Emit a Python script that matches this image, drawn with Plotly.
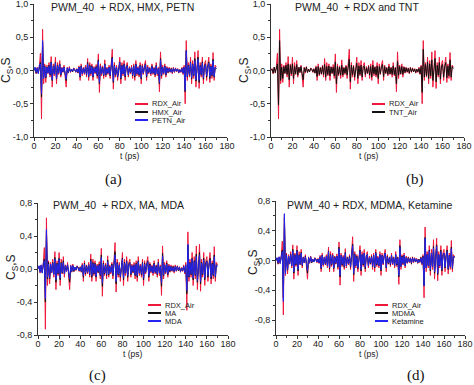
import plotly.graph_objects as go

W, H = 474, 385

t = list(range(0, 171))

rdx_air = [
    0.0, 0.03, -0.05, 0.05, -0.04, 0.06, 0.26, -0.73, 0.62, -0.2,
    0.1, -0.18, 0.08, -0.05, 0.12, -0.1, 0.21, -0.25, 0.1, -0.08,
    0.2, -0.2, 0.12, -0.06, 0.15, -0.1, 0.05, -0.03, 0.08, -0.05,
    -0.25, 0.05, -0.04, 0.06, -0.03, 0.02, -0.02, 0.04, 0.02, -0.03,
    0.03, -0.04, 0.07, -0.15, 0.1, -0.08, 0.05, -0.06, 0.08, -0.1,
    0.18, -0.15, 0.12, -0.08, 0.1, -0.15, 0.06, -0.05, 0.09, -0.12,
    0.25, -0.33, 0.1, -0.08, 0.07, -0.12, 0.16, -0.1, 0.05, -0.06,
    0.08, -0.12, 0.1, 0.32, -0.28, 0.12, -0.1, 0.08, -0.15, 0.1,
    0.2, -0.2, 0.12, -0.08, 0.15, -0.15, 0.08, 0.12, -0.1, 0.06,
    -0.05, 0.08, -0.12, 0.1, -0.15, 0.15, -0.08, 0.06, -0.1, 0.12,
    -0.2, 0.1, -0.06, 0.08, 0.15, -0.15, 0.08, -0.05, 0.05, -0.08,
    0.1, -0.06, 0.05, -0.1, 0.12, -0.08, 0.05, -0.32, 0.28, -0.12,
    0.08, -0.06, 0.1, -0.1, 0.06, -0.04, 0.05, -0.03, 0.04, -0.05,
    0.05, -0.03, 0.04, -0.02, 0.03, -0.04, 0.02, -0.03, 0.05, -0.06,
    0.08, -0.5, 0.45, -0.15, 0.12, -0.1, 0.2, -0.2, 0.15, -0.12,
    0.28, -0.25, 0.1, 0.3, -0.27, 0.12, -0.1, 0.2, -0.2, 0.1,
    0.15, -0.15, 0.08, 0.2, -0.18, 0.1, -0.12, 0.27, -0.15, 0.08,
    0.05,
]

hmx_air = [
    0.0, 0.04, -0.04, 0.03, -0.04, 0.07, 0.12, -0.4, 0.42, -0.1,
    0.07, -0.11, 0.05, -0.03, 0.08, -0.07, 0.13, -0.15, 0.07, -0.05,
    0.12, -0.13, 0.08, -0.04, 0.1, -0.07, 0.03, -0.02, 0.05, -0.04,
    -0.15, 0.03, -0.03, 0.04, -0.02, 0.01, -0.02, 0.03, 0.01, -0.02,
    0.02, -0.03, 0.05, -0.1, 0.07, -0.05, 0.03, -0.04, 0.05, -0.07,
    0.12, -0.1, 0.08, -0.05, 0.07, -0.1, 0.04, -0.03, 0.06, -0.08,
    0.16, -0.2, 0.07, -0.05, 0.05, -0.08, 0.1, -0.07, 0.03, -0.04,
    0.05, -0.08, 0.07, 0.2, -0.18, 0.08, -0.07, 0.05, -0.1, 0.07,
    0.13, -0.13, 0.08, -0.05, 0.1, -0.1, 0.05, 0.08, -0.07, 0.04,
    -0.03, 0.05, -0.08, 0.07, -0.1, 0.1, -0.05, 0.04, -0.07, 0.08,
    -0.13, 0.07, -0.04, 0.05, 0.1, -0.1, 0.05, -0.03, 0.03, -0.05,
    0.07, -0.04, 0.03, -0.07, 0.08, -0.05, 0.03, -0.2, 0.18, -0.08,
    0.05, -0.04, 0.07, -0.07, 0.04, -0.03, 0.03, -0.02, 0.03, -0.03,
    0.03, -0.02, 0.03, -0.01, 0.02, -0.03, 0.01, -0.02, 0.03, -0.04,
    0.05, -0.32, 0.3, -0.1, 0.08, -0.07, 0.13, -0.13, 0.1, -0.08,
    0.18, -0.16, 0.07, 0.2, -0.18, 0.08, -0.07, 0.13, -0.13, 0.07,
    0.1, -0.1, 0.05, 0.13, -0.12, 0.07, -0.08, 0.17, -0.1, 0.05,
    0.03,
]

petn_air = [
    0.0, 0.05, -0.03, 0.04, -0.05, 0.08, 0.1, -0.35, 0.45, -0.12,
    0.06, -0.1, 0.05, -0.04, 0.07, -0.06, 0.12, -0.14, 0.06, -0.05,
    0.11, -0.12, 0.07, -0.04, 0.09, -0.06, 0.04, -0.02, 0.05, -0.03,
    -0.13, 0.04, -0.03, 0.04, -0.02, 0.02, -0.01, 0.03, 0.01, -0.02,
    0.02, -0.03, 0.05, -0.09, 0.06, -0.05, 0.03, -0.04, 0.05, -0.06,
    0.1, -0.09, 0.07, -0.05, 0.06, -0.09, 0.04, -0.03, 0.05, -0.07,
    0.14, -0.18, 0.06, -0.05, 0.04, -0.07, 0.09, -0.06, 0.03, -0.04,
    0.05, -0.07, 0.06, 0.18, -0.16, 0.07, -0.06, 0.05, -0.09, 0.06,
    0.12, -0.11, 0.07, -0.05, 0.09, -0.08, 0.05, 0.07, -0.06, 0.04,
    -0.03, 0.05, -0.07, 0.06, -0.08, 0.09, -0.05, 0.04, -0.06, 0.07,
    -0.11, 0.06, -0.04, 0.05, 0.09, -0.08, 0.05, -0.03, 0.03, -0.05,
    0.06, -0.04, 0.03, -0.06, 0.07, -0.05, 0.03, -0.18, 0.16, -0.07,
    0.05, -0.04, 0.06, -0.06, 0.04, -0.02, 0.03, -0.02, 0.02, -0.03,
    0.03, -0.02, 0.03, -0.01, 0.02, -0.03, 0.01, -0.02, 0.03, -0.04,
    0.05, -0.3, 0.3, -0.09, 0.07, -0.06, 0.12, -0.11, 0.09, -0.07,
    0.15, -0.14, 0.06, 0.17, -0.15, 0.07, -0.06, 0.11, -0.11, 0.06,
    0.09, -0.08, 0.05, 0.11, -0.1, 0.06, -0.07, 0.15, -0.09, 0.05,
    0.03,
]

tnt_air = [
    0.0, 0.02, -0.04, 0.05, -0.03, 0.05, 0.1, -0.52, 0.45, -0.15,
    0.05, -0.12, 0.06, -0.04, 0.08, -0.06, 0.1, -0.14, 0.08, -0.05,
    0.1, -0.12, 0.06, -0.05, 0.09, -0.07, 0.05, -0.03, 0.06, -0.04,
    -0.14, 0.04, -0.02, 0.05, -0.03, 0.02, -0.02, 0.03, 0.02, -0.02,
    0.02, -0.04, 0.05, -0.09, 0.06, -0.06, 0.04, -0.05, 0.06, -0.06,
    0.09, -0.1, 0.06, -0.06, 0.07, -0.08, 0.05, -0.04, 0.05, -0.08,
    0.13, -0.2, 0.06, -0.06, 0.05, -0.07, 0.08, -0.07, 0.04, -0.04,
    0.06, -0.07, 0.05, 0.17, -0.17, 0.08, -0.06, 0.06, -0.1, 0.06,
    0.11, -0.12, 0.07, -0.06, 0.08, -0.1, 0.05, 0.07, -0.06, 0.04,
    -0.04, 0.06, -0.07, 0.06, -0.1, 0.08, -0.05, 0.05, -0.07, 0.07,
    -0.12, 0.06, -0.05, 0.06, 0.09, -0.09, 0.06, -0.04, 0.04, -0.06,
    0.06, -0.05, 0.04, -0.06, 0.07, -0.06, 0.04, -0.2, 0.14, -0.07,
    0.06, -0.05, 0.06, -0.06, 0.05, -0.03, 0.04, -0.02, 0.03, -0.04,
    0.04, -0.02, 0.03, -0.02, 0.02, -0.03, 0.02, -0.02, 0.03, -0.05,
    0.06, -0.33, 0.32, -0.1, 0.09, -0.08, 0.13, -0.12, 0.1, -0.08,
    0.16, -0.15, 0.07, 0.18, -0.17, 0.08, -0.07, 0.12, -0.13, 0.07,
    0.09, -0.1, 0.06, 0.12, -0.11, 0.07, -0.08, 0.16, -0.1, 0.06,
    0.03,
]

ma = [
    0.01, 0.03, -0.03, 0.04, -0.04, 0.06, 0.12, -0.4, 0.46, -0.12,
    0.08, -0.12, 0.05, -0.04, 0.08, -0.06, 0.14, -0.16, 0.07, -0.06,
    0.13, -0.13, 0.08, -0.05, 0.1, -0.06, 0.04, -0.02, 0.05, -0.04,
    -0.16, 0.03, -0.03, 0.04, -0.03, 0.02, -0.01, 0.03, 0.02, -0.02,
    0.02, -0.03, 0.05, -0.1, 0.07, -0.06, 0.04, -0.04, 0.05, -0.07,
    0.12, -0.1, 0.08, -0.06, 0.07, -0.1, 0.04, -0.04, 0.06, -0.08,
    0.17, -0.21, 0.07, -0.06, 0.05, -0.08, 0.11, -0.07, 0.03, -0.04,
    0.06, -0.08, 0.07, 0.21, -0.18, 0.08, -0.07, 0.05, -0.1, 0.07,
    0.13, -0.13, 0.08, -0.05, 0.1, -0.1, 0.06, 0.08, -0.07, 0.04,
    -0.04, 0.05, -0.08, 0.07, -0.1, 0.1, -0.05, 0.04, -0.07, 0.08,
    -0.13, 0.07, -0.04, 0.05, 0.1, -0.1, 0.06, -0.03, 0.03, -0.05,
    0.07, -0.04, 0.04, -0.07, 0.08, -0.05, 0.03, -0.21, 0.19, -0.08,
    0.05, -0.04, 0.07, -0.07, 0.04, -0.03, 0.03, -0.02, 0.03, -0.03,
    0.03, -0.02, 0.03, -0.02, 0.02, -0.03, 0.01, -0.02, 0.03, -0.04,
    0.05, -0.3, 0.29, -0.1, 0.08, -0.07, 0.13, -0.13, 0.1, -0.08,
    0.18, -0.16, 0.07, 0.2, -0.18, 0.08, -0.07, 0.13, -0.13, 0.07,
    0.1, -0.1, 0.05, 0.13, -0.12, 0.07, -0.08, 0.17, -0.1, 0.05,
    0.04,
]

mda = [
    0.0, 0.04, -0.04, 0.05, -0.05, 0.07, 0.1, -0.36, 0.48, -0.1,
    0.06, -0.11, 0.06, -0.04, 0.07, -0.07, 0.12, -0.13, 0.06, -0.05,
    0.12, -0.11, 0.07, -0.04, 0.08, -0.06, 0.04, -0.03, 0.05, -0.03,
    -0.12, 0.04, -0.03, 0.04, -0.02, 0.02, -0.01, 0.03, 0.01, -0.02,
    0.02, -0.03, 0.05, -0.08, 0.06, -0.05, 0.03, -0.04, 0.05, -0.06,
    0.1, -0.08, 0.07, -0.05, 0.06, -0.09, 0.04, -0.03, 0.05, -0.07,
    0.14, -0.17, 0.06, -0.05, 0.04, -0.07, 0.09, -0.06, 0.03, -0.04,
    0.05, -0.07, 0.06, 0.17, -0.15, 0.07, -0.06, 0.05, -0.09, 0.06,
    0.12, -0.11, 0.07, -0.05, 0.09, -0.08, 0.05, 0.07, -0.06, 0.04,
    -0.03, 0.05, -0.07, 0.06, -0.08, 0.09, -0.05, 0.04, -0.06, 0.07,
    -0.11, 0.06, -0.04, 0.05, 0.09, -0.08, 0.05, -0.03, 0.03, -0.05,
    0.06, -0.04, 0.03, -0.06, 0.07, -0.05, 0.03, -0.17, 0.16, -0.07,
    0.05, -0.04, 0.06, -0.06, 0.04, -0.02, 0.03, -0.02, 0.02, -0.03,
    0.03, -0.02, 0.03, -0.01, 0.02, -0.03, 0.01, -0.02, 0.03, -0.04,
    0.05, -0.26, 0.3, -0.09, 0.07, -0.06, 0.12, -0.11, 0.09, -0.07,
    0.15, -0.14, 0.06, 0.17, -0.15, 0.07, -0.06, 0.11, -0.11, 0.06,
    0.09, -0.08, 0.05, 0.11, -0.1, 0.06, -0.07, 0.15, -0.09, 0.05,
    0.03,
]

mdma = [
    0.0, 0.03, -0.04, 0.04, -0.03, 0.05, 0.14, -0.5, 0.58, -0.15,
    0.08, -0.13, 0.06, -0.04, 0.09, -0.07, 0.15, -0.17, 0.08, -0.06,
    0.14, -0.14, 0.08, -0.05, 0.11, -0.07, 0.04, -0.03, 0.06, -0.04,
    -0.17, 0.04, -0.03, 0.05, -0.03, 0.02, -0.02, 0.03, 0.02, -0.02,
    0.02, -0.03, 0.05, -0.11, 0.07, -0.06, 0.04, -0.05, 0.06, -0.07,
    0.13, -0.11, 0.08, -0.06, 0.07, -0.11, 0.05, -0.04, 0.06, -0.09,
    0.18, -0.22, 0.07, -0.06, 0.05, -0.09, 0.11, -0.07, 0.04, -0.04,
    0.06, -0.09, 0.07, 0.22, -0.19, 0.09, -0.07, 0.06, -0.11, 0.07,
    0.14, -0.14, 0.08, -0.06, 0.1, -0.11, 0.06, 0.08, -0.07, 0.04,
    -0.04, 0.06, -0.08, 0.07, -0.1, 0.11, -0.06, 0.04, -0.07, 0.08,
    -0.14, 0.07, -0.04, 0.06, 0.1, -0.1, 0.06, -0.04, 0.04, -0.06,
    0.07, -0.04, 0.04, -0.07, 0.08, -0.06, 0.04, -0.22, 0.2, -0.08,
    0.06, -0.04, 0.07, -0.07, 0.04, -0.03, 0.04, -0.02, 0.03, -0.04,
    0.04, -0.02, 0.03, -0.02, 0.02, -0.03, 0.02, -0.02, 0.04, -0.04,
    0.06, -0.34, 0.31, -0.1, 0.08, -0.07, 0.14, -0.14, 0.1, -0.08,
    0.19, -0.17, 0.07, 0.21, -0.19, 0.08, -0.07, 0.14, -0.14, 0.07,
    0.1, -0.1, 0.06, 0.14, -0.12, 0.07, -0.08, 0.18, -0.11, 0.06,
    0.04,
]

ketamine = [
    0.0, 0.04, -0.03, 0.05, -0.04, 0.06, 0.12, -0.55, 0.63, -0.18,
    0.07, -0.12, 0.06, -0.04, 0.08, -0.07, 0.13, -0.15, 0.07, -0.05,
    0.13, -0.12, 0.07, -0.05, 0.1, -0.06, 0.04, -0.03, 0.05, -0.04,
    -0.14, 0.04, -0.03, 0.05, -0.02, 0.02, -0.02, 0.03, 0.01, -0.02,
    0.02, -0.03, 0.05, -0.1, 0.07, -0.06, 0.04, -0.04, 0.06, -0.07,
    0.12, -0.1, 0.07, -0.05, 0.07, -0.1, 0.04, -0.03, 0.06, -0.08,
    0.16, -0.2, 0.07, -0.05, 0.05, -0.08, 0.1, -0.07, 0.03, -0.04,
    0.05, -0.08, 0.07, 0.2, -0.17, 0.08, -0.07, 0.05, -0.1, 0.07,
    0.13, -0.12, 0.08, -0.05, 0.1, -0.09, 0.05, 0.08, -0.07, 0.04,
    -0.03, 0.05, -0.08, 0.07, -0.09, 0.1, -0.05, 0.04, -0.07, 0.08,
    -0.12, 0.07, -0.04, 0.05, 0.1, -0.09, 0.05, -0.03, 0.03, -0.05,
    0.07, -0.04, 0.03, -0.07, 0.08, -0.05, 0.03, -0.2, 0.18, -0.08,
    0.05, -0.04, 0.07, -0.07, 0.04, -0.03, 0.03, -0.02, 0.03, -0.03,
    0.03, -0.02, 0.03, -0.01, 0.02, -0.03, 0.01, -0.02, 0.03, -0.04,
    0.05, -0.34, 0.3, -0.1, 0.08, -0.07, 0.13, -0.12, 0.1, -0.08,
    0.17, -0.15, 0.07, 0.19, -0.17, 0.08, -0.07, 0.12, -0.12, 0.07,
    0.1, -0.09, 0.05, 0.12, -0.11, 0.07, -0.08, 0.16, -0.1, 0.06,
    0.04,
]

x_ticks = [0, 20, 40, 60, 80, 100, 120, 140, 160, 180]
x_ticktext = ["0", "20", "40", "60", "80", "100", "120", "140", "160", "180"]
y_ticks_ab = [-1.0, -0.5, 0.0, 0.5, 1.0]
y_ticktext_ab = ["-1,0", "-0,5", "0,0", "0,5", "1,0"]
y_ticks_cd = [-0.8, -0.4, 0.0, 0.4, 0.8]
y_ticktext_cd = ["-0,8", "-0,4", "0,0", "0,4", "0,8"]

panel_titles = [
    "PWM_40\u00a0\u00a0+ RDX, HMX, PETN",
    "PWM_40\u00a0\u00a0+ RDX and TNT",
    "PWM_40\u00a0\u00a0+ RDX, MA, MDA",
    "PWM_40 + RDX, MDMA, Ketamine",
]
panel_letters = ["(a)", "(b)", "(c)", "(d)"]

RED = "#f0183a"
BLACK = "#111111"
BLUE = "#2424f0"

panels = [
    ([("RDX_Air", rdx_air, RED), ("HMX_Air", hmx_air, BLACK), ("PETN_Air", petn_air, BLUE)], ""),
    ([("RDX_Air", rdx_air, RED), ("TNT_Air", tnt_air, BLACK)], "2"),
    ([("RDX_Air", rdx_air, RED), ("MA", ma, BLACK), ("MDA", mda, BLUE)], "3"),
    ([("RDX_Air", rdx_air, RED), ("MDMA", mdma, BLACK), ("Ketamine", ketamine, BLUE)], "4"),
]


def px(x):
    return x / W


def py(y):
    return 1 - y / H


fig = go.Figure()
for series, sfx in panels:
    for name, vals, col in series:
        fig.add_trace(go.Scatter(
            x=t, y=vals, name=name, mode="lines",
            line=dict(color=col, width=1),
            xaxis="x" + sfx, yaxis="y" + sfx, showlegend=False,
            hoverinfo="skip",
        ))

FONT = "Liberation Sans, Arial, sans-serif"
TXT = "#222222"


def xaxis(dom, anchor):
    return dict(
        domain=dom, anchor=anchor, range=[0, 180], automargin=False,
        tickvals=x_ticks, ticktext=x_ticktext, ticklabeloverflow="allow",
        ticklabelstandoff=-3,
        ticks="outside", ticklen=3, tickwidth=1, tickcolor="#333",
        minor=dict(dtick=10, ticks="outside", ticklen=2, tickcolor="#333", showgrid=False),
        showline=True, linecolor="#333", linewidth=1,
        showgrid=False, zeroline=False,
        tickfont=dict(family=FONT, size=9, color=TXT),
    )


def yaxis(dom, anchor, rng, tv, tt, mdt):
    return dict(
        domain=dom, anchor=anchor, range=rng, automargin=False,
        tickvals=tv, ticktext=tt, ticklabeloverflow="allow",
        ticks="outside", ticklen=3, tickwidth=1, tickcolor="#333",
        minor=dict(dtick=mdt, ticks="outside", ticklen=2, tickcolor="#333", showgrid=False),
        showline=True, linecolor="#333", linewidth=1,
        showgrid=False, zeroline=False,
        tickfont=dict(family=FONT, size=9, color=TXT),
    )


fig.update_layout(
    template="none",
    width=W, height=H,
    margin=dict(l=0, r=0, t=0, b=0, autoexpand=False),
    paper_bgcolor="white", plot_bgcolor="white",
    showlegend=False,
    xaxis=xaxis([px(34), px(227)], "y"),
    yaxis=yaxis([py(137), py(4)], "x", [-1.0, 1.0], y_ticks_ab, y_ticktext_ab, 0.25),
    xaxis2=xaxis([px(271), px(464)], "y2"),
    yaxis2=yaxis([py(137), py(4)], "x2", [-1.0, 1.0], y_ticks_ab, y_ticktext_ab, 0.25),
    xaxis3=xaxis([px(38), px(228)], "y3"),
    yaxis3=yaxis([py(335), py(203)], "x3", [-0.8, 0.8], y_ticks_cd, y_ticktext_cd, 0.2),
    xaxis4=xaxis([px(276), px(465)], "y4"),
    yaxis4=yaxis([py(335), py(201)], "x4", [-1.0, 0.8], y_ticks_cd, y_ticktext_cd, 0.2),
)

ann = []
shapes = []
title_pos = [(122, 7), (357, 7), (118, 205), (370, 205)]
for txt, (x, y) in zip(panel_titles, title_pos):
    ann.append(dict(text=txt, x=px(x), y=py(y), xref="paper", yref="paper",
                    showarrow=False, xanchor="center", yanchor="middle",
                    font=dict(family=FONT, size=10.5, color=TXT)))
letter_pos = [(113, 180), (415, 180), (97, 375), (416, 375)]
for txt, (x, y) in zip(panel_letters, letter_pos):
    ann.append(dict(text=txt, x=px(x), y=py(y), xref="paper", yref="paper",
                    showarrow=False, xanchor="center", yanchor="middle",
                    font=dict(family="Liberation Serif, Times New Roman, serif", size=15, color="#111")))
ytitle_pos = [(7, 70), (245, 70), (12, 267), (254, 262)]
for (x, y) in ytitle_pos:
    ann.append(dict(text="C<sub>S</sub>,S", x=px(x), y=py(y), xref="paper", yref="paper",
                    showarrow=False, textangle=-90, xanchor="center", yanchor="middle",
                    font=dict(family=FONT, size=12, color=TXT)))
xtitle_pos = [(130, 156), (369, 156), (133, 354), (369, 354)]
for (x, y) in xtitle_pos:
    ann.append(dict(text="t (ps)", x=px(x), y=py(y), xref="paper", yref="paper",
                    showarrow=False, xanchor="center", yanchor="middle",
                    font=dict(family=FONT, size=8.5, color=TXT)))
legend_pos = [(135, 104), (372, 104), (148, 305), (375, 305)]
row_gap = 8
for (series, sfx), (lx, ly) in zip(panels, legend_pos):
    for i, (name, vals, col) in enumerate(series):
        yy = ly + i * row_gap
        shapes.append(dict(type="line", xref="paper", yref="paper",
                           x0=px(lx), x1=px(lx + 13), y0=py(yy), y1=py(yy),
                           line=dict(color=col, width=2)))
        ann.append(dict(text=name, x=px(lx + 15), y=py(yy), xref="paper", yref="paper",
                        showarrow=False, xanchor="left", yanchor="middle",
                        font=dict(family=FONT, size=7.5, color=TXT)))

fig.update_layout(annotations=ann, shapes=shapes)
fig.write_html(
    "out.html",
    config={"displayModeBar": False},
    post_script="document.body.style.margin='0';document.body.style.padding='0';document.body.style.overflow='hidden';",
)
